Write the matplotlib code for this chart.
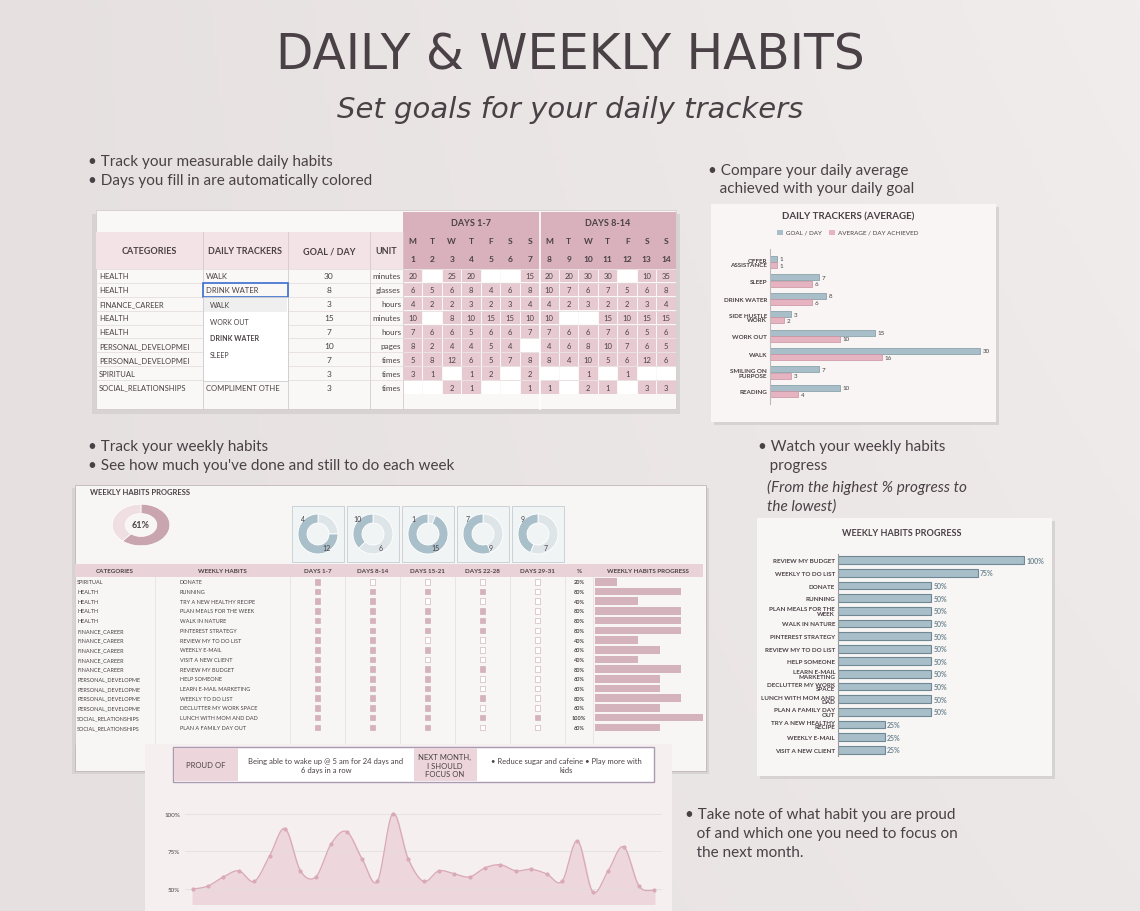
import matplotlib
matplotlib.use("Agg")
import matplotlib.pyplot as plt
from matplotlib.patches import Rectangle
import numpy as np

W, H = 1140, 912
plt.rcParams['font.family'] = ['Lato', 'DejaVu Sans']

# ---------------- data ----------------
top_categories = ["HEALTH", "HEALTH", "FINANCE_CAREER", "HEALTH", "HEALTH",
                  "PERSONAL_DEVELOPMEI", "PERSONAL_DEVELOPMEI", "SPIRITUAL", "SOCIAL_RELATIONSHIPS"]
top_trackers = ["WALK", "DRINK WATER", "", "", "", "", "", "", "COMPLIMENT OTHE"]
top_goals = [30, 8, 3, 15, 7, 10, 7, 3, 3]
top_units = ["minutes", "glasses", "hours", "minutes", "hours", "pages", "times", "times", "times"]
day_letters = ["M", "T", "W", "T", "F", "S", "S"] * 2
day_values = [
    [20, None, 25, 20, None, None, 15, 20, 20, 30, 30, None, 10, 35],
    [6, 5, 6, 8, 4, 6, 8, 10, 7, 6, 7, 5, 6, 8],
    [4, 2, 2, 3, 2, 3, 4, 4, 2, 3, 2, 2, 3, 4],
    [10, None, 8, 10, 15, 15, 10, 10, None, None, 15, 10, 15, 15],
    [7, 6, 6, 5, 6, 6, 7, 7, 6, 6, 7, 6, 5, 6],
    [8, 2, 4, 4, 5, 4, None, 4, 6, 8, 10, 7, 6, 5],
    [5, 8, 12, 6, 5, 7, 8, 8, 4, 10, 5, 6, 12, 6],
    [3, 1, None, 1, 2, None, 2, None, None, 1, None, 1, None, None],
    [None, None, 2, 1, None, None, 1, 1, None, 2, 1, None, 3, 3],
]
dropdown_items = ["WALK", "WORK OUT", "DRINK WATER", "SLEEP"]

tracker_labels = ["OFFER\nASSISTANCE", "SLEEP", "DRINK WATER", "SIDE HUSTLE\nWORK",
                  "WORK OUT", "WALK", "SMILING ON\nPURPOSE", "READING"]
tracker_goal = [1, 7, 8, 3, 15, 30, 7, 10]
tracker_avg = [1, 6, 6, 2, 10, 16, 3, 4]

week_cats = ["SPIRITUAL", "HEALTH", "HEALTH", "HEALTH", "HEALTH", "FINANCE_CAREER",
             "FINANCE_CAREER", "FINANCE_CAREER", "FINANCE_CAREER", "FINANCE_CAREER",
             "PERSONAL_DEVELOPME", "PERSONAL_DEVELOPME", "PERSONAL_DEVELOPME",
             "PERSONAL_DEVELOPME", "SOCIAL_RELATIONSHIPS", "SOCIAL_RELATIONSHIPS"]
week_habits = ["DONATE", "RUNNING", "TRY A NEW HEALTHY RECIPE", "PLAN MEALS FOR THE WEEK",
               "WALK IN NATURE", "PINTEREST STRATEGY", "REVIEW MY TO DO LIST", "WEEKLY E-MAIL",
               "VISIT A NEW CLIENT", "REVIEW MY BUDGET", "HELP SOMEONE", "LEARN E-MAIL MARKETING",
               "WEEKLY TO DO LIST", "DECLUTTER MY WORK SPACE", "LUNCH WITH MOM AND DAD",
               "PLAN A FAMILY DAY OUT"]
week_pct = [20, 80, 40, 80, 80, 80, 40, 60, 40, 80, 60, 60, 80, 60, 100, 60]
week_cols = ["DAYS 1-7", "DAYS 8-14", "DAYS 15-21", "DAYS 22-28", "DAYS 29-31"]
donut_done = [4, 10, 1, 7, 9]
donut_left = [12, 6, 15, 9, 7]
overall_pct = 61

prog_labels = ["REVIEW MY BUDGET", "WEEKLY TO DO LIST", "DONATE", "RUNNING",
               "PLAN MEALS FOR THE\nWEEK", "WALK IN NATURE", "PINTEREST STRATEGY",
               "REVIEW MY TO DO LIST", "HELP SOMEONE", "LEARN E-MAIL\nMARKETING",
               "DECLUTTER MY WORK\nSPACE", "LUNCH WITH MOM AND\nDAD", "PLAN A FAMILY DAY\nOUT",
               "TRY A NEW HEALTHY\nRECIPE", "WEEKLY E-MAIL", "VISIT A NEW CLIENT"]
prog_values = [100, 75, 50, 50, 50, 50, 50, 50, 50, 50, 50, 50, 50, 25, 25, 25]

month_progress = [50, 52, 58, 62, 55, 72, 90, 62, 58, 80, 88, 70, 55, 100, 70, 55, 62,
                  60, 58, 64, 66, 62, 63, 60, 55, 82, 48, 62, 78, 52, 49]

TXT = "#4a4146"
PINK = "#e7cad1"
PINKH = "#d8b1bc"
BLUE = "#a8bec8"
PINKB = "#e6b4c1"

# ---------------- figure ----------------
fig = plt.figure(figsize=(W / 100, H / 100), dpi=100)
fig.patch.set_facecolor("#ece7e7")
base = fig.add_axes([0, 0, 1, 1])
base.set_xlim(0, W); base.set_ylim(H, 0); base.axis("off")
grad = np.linspace(0, 1, 256)[None, :] * np.linspace(1, 0.6, 256)[:, None]
base.imshow(grad, extent=[0, W, H, 0], cmap=matplotlib.colors.LinearSegmentedColormap.from_list(
    "g", ["#e6e0e0", "#f1eded"]), aspect="auto", zorder=0)


def rect(x0, y0, x1, y1, fc, ec="none", lw=0.5, z=1):
    base.add_patch(Rectangle((x0, y0), x1 - x0, y1 - y0, fc=fc, ec=ec, lw=lw, zorder=z))


def ax_at(x0, y0, x1, y1):
    return fig.add_axes([x0 / W, 1 - y1 / H, (x1 - x0) / W, (y1 - y0) / H])


base.text(570, 55, "DAILY & WEEKLY HABITS", ha="center", va="center", fontsize=35,
          color=TXT, family=["DejaVu Sans"])
base.text(570, 110, "Set goals for your daily trackers", ha="center", va="center",
          fontsize=21, color=TXT, style="italic", family=["DejaVu Sans"])

for x, y, s in [(88, 162, "• Track your measurable daily habits"),
                (88, 181, "• Days you fill in are automatically colored"),
                (708, 171, "• Compare your daily average"),
                (708, 189, "   achieved with your daily goal"),
                (88, 447, "• Track your weekly habits"),
                (88, 466, "• See how much you've done and still to do each week"),
                (758, 447, "• Watch your weekly habits"),
                (758, 466, "   progress"),
                (685, 815, "• Take note of what habit you are proud"),
                (685, 834, "   of and which one you need to focus on"),
                (685, 853, "   the next month.")]:
    base.text(x, y, s, ha="left", va="center", fontsize=11, color=TXT)
base.text(767, 497, "(From the highest % progress to\nthe lowest)", ha="left", va="center",
          fontsize=11, color=TXT, style="italic", linespacing=1.4)

# ---------------- top table ----------------
rect(92, 215, 680, 415, "#d8d3d3", z=0.5)
rect(96, 211, 676, 410, "#faf7f7", ec="#cfc6c8")
rect(96, 233, 403, 270, "#f3e3e6")
cols = [96, 203, 288, 370, 403]
for x in cols[1:]:
    base.plot([x, x], [233, 410], color="#d6c9cc", lw=0.6, zorder=2)
for x, s in zip([149, 245, 329, 386], ["CATEGORIES", "DAILY TRACKERS", "GOAL / DAY", "UNIT"]):
    base.text(x, 252, s, ha="center", va="center", fontsize=6.5, color=TXT, fontweight="bold")
dx = (676 - 403) / 14
rect(403, 213, 676, 270, PINKH)
base.text(403 + 3.5 * dx, 224, "DAYS 1-7", ha="center", va="center", fontsize=6.5, color=TXT, fontweight="bold")
base.text(403 + 10.5 * dx, 224, "DAYS 8-14", ha="center", va="center", fontsize=6.5, color=TXT, fontweight="bold")
for j, l in enumerate(day_letters):
    cx = 403 + (j + 0.5) * dx
    base.text(cx, 242, l, ha="center", va="center", fontsize=6, color=TXT, fontweight="bold")
    base.text(cx, 260, str(j + 1), ha="center", va="center", fontsize=6, color=TXT, fontweight="bold")
rh = (395 - 270) / 9
for i in range(9):
    y0 = 270 + i * rh
    cy = y0 + rh / 2
    base.plot([96, 676], [y0, y0], color="#e2d8da", lw=0.5, zorder=2)
    base.text(99, cy, top_categories[i], fontsize=5.5, va="center", color=TXT)
    base.text(206, cy, top_trackers[i], fontsize=5.5, va="center", color=TXT)
    base.text(329, cy, str(top_goals[i]), fontsize=6, va="center", ha="center", color=TXT)
    base.text(401, cy, top_units[i], fontsize=5.8, va="center", ha="right", color=TXT)
    for j, v in enumerate(day_values[i]):
        x0 = 403 + j * dx
        rect(x0 + 0.5, y0 + 0.5, x0 + dx - 0.5, y0 + rh - 0.5, PINK if v is not None else "white", z=1.5)
        if v is not None:
            base.text(x0 + dx / 2, cy, str(v), fontsize=5.5, ha="center", va="center", color=TXT, zorder=3)
base.plot([539.5, 539.5], [213, 410], color="white", lw=1.2, zorder=3)
rect(203, 284, 288, 298, "none", ec="#3b6fd1", lw=1.2, z=4)
rect(203, 298, 288, 382, "white", ec="#cccccc", lw=0.6, z=4)
rect(204, 299, 287, 313, "#efefef", z=4.5)
for k, s in enumerate(dropdown_items):
    base.text(210, 306 + k * 16.5, s, fontsize=5, va="center", color=TXT, zorder=5,
              fontweight="bold" if k == 2 else "normal")

# ---------------- daily trackers chart ----------------
rect(714, 208, 999, 426, "#d8d3d3", z=0.5)
rect(711, 205, 996, 423, "#f8f5f4")
base.text(848, 217, "DAILY TRACKERS (AVERAGE)", ha="center", va="center", fontsize=7, color=TXT, fontweight="bold")
rect(777, 231, 783, 236, BLUE); base.text(786, 233.5, "GOAL / DAY", fontsize=4.5, va="center", color=TXT)
rect(829, 231, 835, 236, PINKB); base.text(838, 233.5, "AVERAGE / DAY ACHIEVED", fontsize=4.5, va="center", color=TXT)
ax = ax_at(770, 250, 990, 405)
ax.set_facecolor("none")
y = np.arange(len(tracker_labels))
ax.barh(y - 0.17, tracker_goal, 0.32, color=BLUE, edgecolor="#7f97a2", lw=0.5)
ax.barh(y + 0.17, tracker_avg, 0.32, color=PINKB, edgecolor="#c9909f", lw=0.5)
for yi, g, a in zip(y, tracker_goal, tracker_avg):
    ax.text(g + 0.4, yi - 0.17, str(g), fontsize=4.5, va="center", color=TXT)
    ax.text(a + 0.4, yi + 0.17, str(a), fontsize=4.5, va="center", color=TXT)
ax.set_yticks(y); ax.set_yticklabels(tracker_labels, fontsize=4.5, fontweight="bold", color=TXT, linespacing=0.9)
ax.invert_yaxis(); ax.set_xlim(0, 31.5); ax.set_xticks([])
for s in ["top", "right", "bottom"]:
    ax.spines[s].set_visible(False)
ax.spines["left"].set_color("#bbbbbb"); ax.tick_params(length=0, pad=2)

# ---------------- weekly table ----------------
rect(72, 489, 709, 775, "#d8d3d3", z=0.5)
rect(75, 486, 706, 772, "#f8f5f5", ec="#b8a9b5")
base.text(90, 493, "WEEKLY HABITS PROGRESS", fontsize=5.5, va="center", color=TXT, fontweight="bold")
axd = ax_at(105, 500, 177, 552)
axd.pie([overall_pct, 100 - overall_pct], colors=["#c9a5b0", "#f0dfe2"], startangle=90, counterclock=False,
        wedgeprops=dict(width=0.45, edgecolor="white", lw=0.5))
axd.text(0, 0, f"{overall_pct}%", ha="center", va="center", fontsize=6.5, fontweight="bold", color=TXT)
axd.set_aspect("auto")
xb = [290 + k * 55 for k in range(6)]
for k in range(5):
    rect(xb[k] + 2, 507, xb[k + 1] - 1, 563, "#f1f4f5", ec="#b9c6cc", lw=0.5)
    a = ax_at(xb[k] + 3, 508, xb[k + 1] - 2, 562)
    a.pie([donut_done[k], donut_left[k]], colors=["#dde5e8", "#a9bfc9"], startangle=90, counterclock=False,
          wedgeprops=dict(width=0.45, edgecolor="white", lw=0.6))
    a.text(-0.75, 0.78, str(donut_done[k]), fontsize=5, ha="center", va="center", color=TXT)
    a.text(0.4, -0.7, str(donut_left[k]), fontsize=5, ha="center", va="center", color=TXT)
rect(75, 565, 703, 578, "#e9d3d8")
hx = [75, 155] + xb + [593, 703]
heads = ["CATEGORIES", "WEEKLY HABITS"] + week_cols + ["%", "WEEKLY HABITS PROGRESS"]
for k, s in enumerate(heads):
    base.text((hx[k] + hx[k + 1]) / 2, 571.5, s, fontsize=4.5, ha="center", va="center", color=TXT, fontweight="bold")
    base.plot([hx[k], hx[k]], [565, 745], color="#e3d6d9", lw=0.4, zorder=2)
wr = 9.7
for i in range(len(week_habits)):
    cy = 578 + (i + 0.5) * wr
    base.text(77, cy, week_cats[i], fontsize=4, va="center", color=TXT)
    base.text(180, cy, week_habits[i], fontsize=4, va="center", color=TXT)
    n_checked = round(week_pct[i] / 20)
    for k in range(5):
        cx = (hx[2 + k] + hx[3 + k]) / 2
        rect(cx - 2.8, cy - 2.8, cx + 2.8, cy + 2.8, "#d7b2bc" if k < n_checked else "white",
             ec="#c9a8b1", lw=0.4, z=2)
    base.text(579, cy, f"{week_pct[i]}%", fontsize=4, ha="center", va="center", color=TXT, fontweight="bold")
    rect(595, cy - 3.8, 595 + 108 * week_pct[i] / 100, cy + 3.8, "#d4b3bd", z=2)

# ---------------- weekly progress chart ----------------
rect(760, 522, 1055, 780, "#d8d3d3", z=0.5)
rect(757, 519, 1052, 777, "#f8f5f5")
base.text(902, 534, "WEEKLY HABITS PROGRESS", ha="center", va="center", fontsize=6.5, color=TXT, fontweight="bold")
ax2 = ax_at(838, 555, 1025, 757)
ax2.set_facecolor("none")
yy = np.arange(len(prog_labels))
ax2.barh(yy, prog_values, 0.62, color=BLUE, edgecolor="#6f8893", lw=0.8)
for yi, v in zip(yy, prog_values):
    ax2.text(v + 1.2, yi, f"{v}%", fontsize=5, va="center", color="#6f8893", fontweight="bold")
ax2.set_yticks(yy); ax2.set_yticklabels(prog_labels, fontsize=4.5, fontweight="bold", color=TXT, linespacing=0.85)
ax2.set_xlim(0, 100.5); ax2.set_xticks([]); ax2.set_ylim(15.5, -0.5)
for s in ["top", "right", "bottom"]:
    ax2.spines[s].set_visible(False)
ax2.spines["left"].set_color("#999999"); ax2.tick_params(length=0, pad=2)

# ---------------- bottom panel ----------------
rect(145, 745, 672, 912, "#f6efef", z=5)
rect(173, 748, 654, 783, "white", ec="#a89ab0", lw=1, z=5)
rect(174, 749, 238, 782, "#ecd6db", z=5)
rect(414, 749, 477, 782, "#ecd6db", z=5)
base.text(206, 766, "PROUD OF", fontsize=5.5, ha="center", va="center", color=TXT, zorder=6)
base.text(326, 766, "Being able to wake up @ 5 am for 24 days and\n6 days in a row", fontsize=5.5,
          ha="center", va="center", color=TXT, zorder=6)
base.text(445, 766, "NEXT MONTH,\nI SHOULD\nFOCUS ON", fontsize=5.5, ha="center", va="center", color=TXT, zorder=6)
base.text(566, 766, "• Reduce sugar and cafeine • Play more with\nkids", fontsize=5.5, ha="center",
          va="center", color=TXT, zorder=6)
ax3 = ax_at(185, 810, 662, 905)
ax3.set_zorder(6); ax3.set_facecolor("none")
xs = np.arange(len(month_progress))
xf = np.linspace(0, len(month_progress) - 1, 400)
p = np.array(month_progress, float)
pp = np.concatenate([[p[0]], p, [p[-1]]])
yf = []
for t in xf:
    i = min(int(t), len(p) - 2); u = t - i
    p0, p1, p2, p3 = pp[i], pp[i + 1], pp[i + 2], pp[i + 3]
    yf.append(0.5 * (2 * p1 + (-p0 + p2) * u + (2 * p0 - 5 * p1 + 4 * p2 - p3) * u ** 2 + (-p0 + 3 * p1 - 3 * p2 + p3) * u ** 3))
ax3.fill_between(xf, 30, yf, color="#eed7dc")
ax3.plot(xf, yf, color="#d9aab6", lw=0.9)
ax3.plot(xs, month_progress, "o", ms=2, color="#d9aab6")
ax3.set_ylim(40, 103); ax3.set_xlim(-0.5, len(month_progress) - 0.5)
ax3.set_yticks([50, 75, 100]); ax3.set_yticklabels(["50%", "75%", "100%"], fontsize=4.5, color=TXT)
ax3.grid(axis="y", color="#dddddd", lw=0.5); ax3.set_xticks([])
for s in ax3.spines.values():
    s.set_visible(False)
ax3.tick_params(length=0)

fig.savefig("out.png", dpi=100, facecolor=fig.get_facecolor())
